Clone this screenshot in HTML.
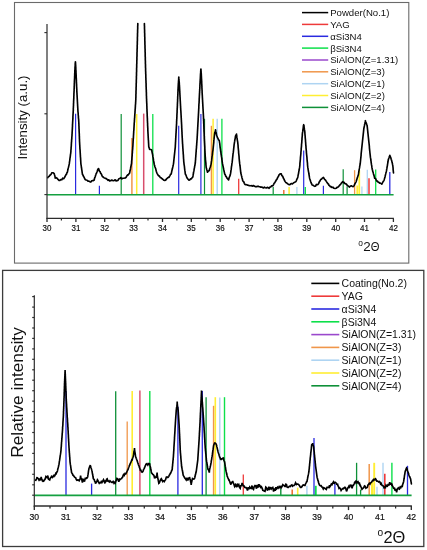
<!DOCTYPE html>
<html><head><meta charset="utf-8"><title>XRD patterns</title>
<style>
html,body{margin:0;padding:0;background:#fff;}
body{width:427px;height:550px;overflow:hidden;font-family:"Liberation Sans",sans-serif;}
svg{display:block;}
text{font-family:"Liberation Sans",sans-serif;fill:#111;}
</style></head><body>
<svg width="427" height="550" viewBox="0 0 427 550">
<rect x="0" y="0" width="427" height="550" fill="#fff"/>

<rect x="14.5" y="2.5" width="394.3" height="260.6" fill="#fff" stroke="#6a6a6a" stroke-width="1.1"/>
<rect x="2.6" y="270.4" width="421.2" height="276.1" fill="#fff" stroke="#3c3c3c" stroke-width="1.3"/>
<g id="top">
<line x1="75.6" y1="113.8" x2="75.6" y2="194.8" stroke="#2a2ae0" stroke-width="1.2"/><line x1="99.4" y1="185.8" x2="99.4" y2="194.8" stroke="#2a2ae0" stroke-width="1.2"/><line x1="121.2" y1="114" x2="121.2" y2="194.8" stroke="#0e9038" stroke-width="1.2"/><line x1="131.9" y1="138" x2="131.9" y2="194.8" stroke="#f0964a" stroke-width="1.5"/><line x1="136.7" y1="114" x2="136.7" y2="194.8" stroke="#ffee33" stroke-width="1.5"/><line x1="143.7" y1="113.6" x2="143.7" y2="194.8" stroke="#d84e6c" stroke-width="1.5"/><line x1="152.8" y1="114" x2="152.8" y2="194.8" stroke="#0ce04a" stroke-width="1.3"/><line x1="178.7" y1="125.8" x2="178.7" y2="194.8" stroke="#2a2ae0" stroke-width="1.2"/><line x1="200.9" y1="114" x2="200.9" y2="194.8" stroke="#2a2ae0" stroke-width="1.2"/><line x1="204.5" y1="118.7" x2="204.5" y2="194.8" stroke="#0e9038" stroke-width="1.2"/><line x1="211.4" y1="125.8" x2="211.4" y2="194.8" stroke="#f0964a" stroke-width="1.4"/><line x1="213.1" y1="118.7" x2="213.1" y2="194.8" stroke="#ffee33" stroke-width="1.5"/><line x1="217.2" y1="118.7" x2="217.2" y2="194.8" stroke="#aed4f2" stroke-width="1.4"/><line x1="221.9" y1="118.7" x2="221.9" y2="194.8" stroke="#0ce04a" stroke-width="1.3"/><line x1="238.7" y1="178.7" x2="238.7" y2="194.8" stroke="#ee3a3a" stroke-width="1.3"/><line x1="273.2" y1="187.1" x2="273.2" y2="194.8" stroke="#0e9038" stroke-width="1.2"/><line x1="283.8" y1="189.9" x2="283.8" y2="194.8" stroke="#f06a28" stroke-width="1.4"/><line x1="289.1" y1="187.1" x2="289.1" y2="194.8" stroke="#ffee33" stroke-width="1.5"/><line x1="296.9" y1="187.1" x2="296.9" y2="194.8" stroke="#aed4f2" stroke-width="1.3"/><line x1="303.7" y1="150.6" x2="303.7" y2="194.8" stroke="#2a2ae0" stroke-width="1.2"/><line x1="305.3" y1="187.1" x2="305.3" y2="194.8" stroke="#0ce04a" stroke-width="1.4"/><line x1="323.4" y1="185.8" x2="323.4" y2="194.8" stroke="#2a2ae0" stroke-width="1.2"/><line x1="343.2" y1="169.3" x2="343.2" y2="194.8" stroke="#0e9038" stroke-width="1.2"/><line x1="347.1" y1="186.5" x2="347.1" y2="194.8" stroke="#0e9038" stroke-width="1.2"/><line x1="354.6" y1="170.2" x2="354.6" y2="194.8" stroke="#f0964a" stroke-width="1.3"/><line x1="357.3" y1="185.5" x2="357.3" y2="194.8" stroke="#ffee33" stroke-width="1.9"/><line x1="359.3" y1="170.2" x2="359.3" y2="194.8" stroke="#ffee33" stroke-width="1.7"/><line x1="361.9" y1="186.5" x2="361.9" y2="194.8" stroke="#aed4f2" stroke-width="1.2"/><line x1="367.3" y1="169.7" x2="367.3" y2="194.8" stroke="#aed4f2" stroke-width="1.3"/><line x1="369" y1="178.3" x2="369" y2="194.8" stroke="#ee3a3a" stroke-width="1.5"/><line x1="375.7" y1="169.5" x2="375.7" y2="194.8" stroke="#0ce04a" stroke-width="1.3"/><line x1="389.8" y1="172.1" x2="389.8" y2="194.8" stroke="#2a2ae0" stroke-width="1.3"/>
<line x1="47" y1="194.8" x2="393.6" y2="194.8" stroke="#14a040" stroke-width="1.6"/>
<polyline points="47.7,177.7 48.4,176.6 49.2,176.5 49.9,175.1 50.6,174.9 51.2,174.0 51.8,172.9 52.4,172.7 53.3,172.7 54.3,173.9 54.5,174.8 54.8,175.7 55.0,176.7 55.2,178.1 56.1,177.7 57.1,178.3 58.0,179.4 59.0,180.3 59.9,180.3 60.8,179.6 61.8,179.8 62.7,178.1 63.7,178.7 64.6,177.4 65.1,176.5 65.5,175.5 66.0,174.7 66.5,174.2 66.9,172.8 67.4,172.2 67.6,171.2 67.8,170.2 68.0,169.3 68.2,168.2 68.5,167.3 68.7,166.4 68.9,165.6 69.1,164.6 69.3,163.7 69.4,162.8 69.5,161.8 69.7,160.8 69.8,160.0 69.9,159.0 70.0,158.0 70.2,157.1 70.3,156.2 70.4,155.3 70.5,154.3 70.7,153.3 70.8,152.4 70.9,151.4 70.9,150.5 71.0,149.6 71.1,148.6 71.1,147.7 71.2,146.8 71.3,145.9 71.3,144.9 71.4,144.0 71.4,143.1 71.5,142.1 71.6,141.2 71.6,140.2 71.7,139.3 71.8,138.4 71.8,137.5 71.9,136.5 72.0,135.6 72.0,134.6 72.1,133.7 72.1,132.8 72.2,131.9 72.2,131.0 72.3,130.1 72.3,129.2 72.4,128.3 72.4,127.4 72.5,126.5 72.5,125.6 72.5,124.7 72.6,123.8 72.6,122.9 72.7,122.0 72.7,121.1 72.8,120.2 72.8,119.3 72.9,118.4 72.9,117.5 72.9,116.6 73.0,115.7 73.0,114.8 73.1,113.9 73.1,113.0 73.2,112.1 73.2,111.2 73.3,110.3 73.3,109.4 73.3,108.5 73.4,107.5 73.4,106.6 73.5,105.7 73.5,104.8 73.5,103.9 73.6,102.9 73.6,102.0 73.6,101.1 73.7,100.2 73.7,99.2 73.8,98.3 73.8,97.4 73.8,96.5 73.9,95.5 73.9,94.6 73.9,93.7 74.0,92.8 74.0,91.9 74.1,90.9 74.1,90.0 74.1,89.1 74.2,88.2 74.2,87.3 74.2,86.4 74.3,85.5 74.3,84.6 74.3,83.7 74.4,82.8 74.4,81.9 74.4,81.0 74.5,80.1 74.5,79.2 74.6,78.3 74.6,77.4 74.6,76.5 74.7,75.6 74.7,74.7 74.7,73.8 74.8,72.9 74.8,72.0 74.8,71.1 74.9,70.2 75.0,69.3 75.0,68.4 75.0,67.5 75.1,66.6 75.2,65.7 75.2,64.8 75.2,63.9 75.3,63.0 75.4,62.1 75.4,61.7 75.5,62.1 75.5,63.0 75.6,63.9 75.6,64.8 75.7,65.7 75.7,66.6 75.8,67.5 75.8,68.4 75.8,69.3 75.9,70.2 76.0,71.1 76.0,72.0 76.0,72.9 76.1,73.8 76.1,74.7 76.2,75.6 76.2,76.5 76.2,77.4 76.3,78.3 76.3,79.2 76.4,80.1 76.4,81.0 76.4,81.9 76.5,82.8 76.5,83.7 76.6,84.6 76.6,85.5 76.6,86.4 76.7,87.3 76.7,88.2 76.8,89.1 76.8,90.0 76.8,90.9 76.9,91.8 76.9,92.7 77.0,93.6 77.0,94.5 77.1,95.4 77.1,96.3 77.2,97.2 77.2,98.1 77.3,99.0 77.3,99.9 77.4,100.9 77.4,101.8 77.5,102.7 77.5,103.6 77.6,104.5 77.6,105.4 77.7,106.3 77.7,107.2 77.8,108.1 77.8,109.0 77.9,109.9 77.9,110.9 78.0,111.8 78.1,112.7 78.2,113.6 78.2,114.6 78.3,115.5 78.4,116.4 78.4,117.4 78.5,118.3 78.6,119.2 78.7,120.1 78.7,121.1 78.8,122.0 78.8,122.9 78.9,123.8 78.9,124.7 78.9,125.7 79.0,126.6 79.0,127.5 79.0,128.4 79.1,129.3 79.1,130.2 79.1,131.1 79.2,132.0 79.2,133.0 79.3,133.9 79.3,134.8 79.3,135.7 79.4,136.6 79.4,137.5 79.4,138.4 79.5,139.3 79.5,140.3 79.5,141.2 79.6,142.1 79.6,143.0 79.7,143.9 79.7,144.8 79.8,145.7 79.8,146.6 79.9,147.5 79.9,148.4 80.0,149.3 80.1,150.2 80.1,151.1 80.2,152.0 80.2,152.9 80.3,153.8 80.3,154.7 80.4,155.6 80.4,156.5 80.5,157.4 80.6,158.3 80.6,159.2 80.7,160.1 80.7,161.0 80.8,161.9 80.8,162.8 80.9,163.7 81.0,164.6 81.2,165.6 81.3,166.4 81.4,167.5 81.6,168.3 81.7,169.3 81.9,170.3 82.0,171.2 82.1,172.1 82.3,173.1 82.4,174.2 82.9,174.9 83.3,176.0 83.8,176.8 84.3,177.7 84.7,178.8 85.2,179.5 86.1,180.0 87.1,180.2 88.0,181.2 88.9,181.1 89.9,181.7 90.8,182.1 91.7,180.7 92.5,180.6 93.3,180.7 94.2,180.0 94.5,178.5 94.8,177.5 95.2,176.8 95.5,175.6 95.8,174.8 96.1,173.7 96.5,173.2 96.8,172.3 97.2,171.5 97.6,170.0 97.9,169.5 98.3,168.6 98.8,169.0 99.2,170.6 99.7,171.6 100.2,171.8 100.7,173.4 101.1,173.7 101.6,174.6 102.1,175.9 102.5,176.7 103.0,176.8 103.8,177.6 104.7,178.1 105.5,178.4 106.3,178.6 107.1,179.3 107.9,180.3 108.8,179.8 109.6,181.0 110.5,180.7 111.4,180.1 112.4,180.4 113.3,180.7 114.2,180.5 115.2,179.8 116.1,181.0 117.0,180.6 118.0,180.4 118.9,178.7 119.8,178.5 120.8,177.7 121.9,178.8 122.9,178.2 124.0,178.2 124.7,178.0 125.5,177.9 126.2,177.2 126.9,175.8 127.6,174.9 128.2,175.0 128.9,173.8 129.6,173.2 129.8,172.0 130.0,171.0 130.2,170.3 130.4,169.3 130.6,168.2 130.7,167.5 130.9,166.5 131.1,165.6 131.3,164.5 131.5,163.8 131.6,162.7 131.6,161.8 131.7,160.9 131.8,159.9 131.9,159.0 131.9,158.1 132.0,157.1 132.1,156.2 132.2,155.3 132.2,154.3 132.3,153.4 132.4,152.4 132.4,151.5 132.5,150.5 132.6,149.6 132.7,148.7 132.7,147.8 132.8,146.8 132.9,145.9 132.9,145.0 133.0,144.1 133.0,143.2 133.1,142.3 133.1,141.4 133.2,140.5 133.2,139.6 133.3,138.7 133.4,137.8 133.4,136.9 133.5,136.0 133.5,135.1 133.6,134.2 133.6,133.3 133.7,132.4 133.7,131.5 133.8,130.6 133.9,129.7 133.9,128.8 134.0,127.9 134.0,127.0 134.1,126.1 134.1,125.2 134.2,124.3 134.2,123.4 134.3,122.5 134.4,121.6 134.4,120.7 134.5,119.8 134.5,118.9 134.6,118.0 134.7,117.1 134.7,116.2 134.8,115.3 134.8,114.4 134.9,113.5 135.0,112.6 135.0,111.7 135.1,110.8 135.1,109.9 135.2,109.0 135.3,108.1 135.3,107.2 135.4,106.3 135.4,105.4 135.5,104.5 135.6,103.6 135.6,102.7 135.7,101.8 135.7,100.9 135.8,100.0 135.8,99.1 135.8,98.2 135.9,97.3 135.9,96.4 135.9,95.5 135.9,94.5 136.0,93.6 136.0,92.7 136.0,91.8 136.0,90.9 136.1,90.0 136.1,89.1 136.1,88.2 136.1,87.3 136.2,86.4 136.2,85.5 136.2,84.5 136.2,83.6 136.3,82.7 136.3,81.8 136.3,80.9 136.3,80.0 136.4,79.1 136.4,78.2 136.4,77.3 136.4,76.4 136.5,75.5 136.5,74.5 136.5,73.6 136.5,72.7 136.6,71.8 136.6,70.9 136.6,70.0 136.6,69.1 136.6,68.2 136.7,67.3 136.7,66.4 136.7,65.4 136.7,64.5 136.8,63.6 136.8,62.7 136.8,61.8 136.8,60.9 136.9,60.0 136.9,59.1 136.9,58.1 136.9,57.2 137.0,56.3 137.0,55.4 137.0,54.5 137.0,53.6 137.0,52.7 137.1,51.8 137.1,50.9 137.1,49.9 137.1,49.0 137.2,48.1 137.2,47.2 137.2,46.3 137.2,45.4 137.3,44.5 137.3,43.6 137.3,42.6 137.3,41.7 137.4,40.8 137.4,39.9 137.4,39.0 137.4,38.1 137.4,37.2 137.5,36.3 137.5,35.4 137.5,34.4 137.5,33.5 137.6,32.6 137.6,31.7 137.6,30.8 137.6,29.9 137.7,29.0 137.7,28.1 137.7,27.1 137.7,26.2 137.8,25.3 137.8,24.4 137.8,23.5" fill="none" stroke="#000" stroke-width="1.65" stroke-linejoin="round" stroke-linecap="round"/>
<polyline points="144.4,23.5 144.4,24.4 144.4,25.3 144.5,26.2 144.5,27.1 144.5,28.1 144.5,29.0 144.6,29.9 144.6,30.8 144.6,31.7 144.6,32.6 144.7,33.5 144.7,34.4 144.7,35.4 144.7,36.3 144.8,37.2 144.8,38.1 144.8,39.0 144.8,39.9 144.8,40.8 144.9,41.7 144.9,42.6 144.9,43.6 144.9,44.5 145.0,45.4 145.0,46.3 145.0,47.2 145.0,48.1 145.1,49.0 145.1,49.9 145.1,50.9 145.1,51.8 145.2,52.7 145.2,53.6 145.2,54.5 145.2,55.4 145.2,56.3 145.3,57.2 145.3,58.1 145.3,59.1 145.3,60.0 145.4,60.9 145.4,61.8 145.4,62.7 145.4,63.6 145.5,64.5 145.5,65.4 145.5,66.4 145.5,67.3 145.6,68.2 145.6,69.1 145.6,70.0 145.6,70.9 145.7,71.8 145.7,72.7 145.7,73.6 145.8,74.5 145.8,75.5 145.8,76.4 145.8,77.3 145.9,78.2 145.9,79.1 145.9,80.0 146.0,80.9 146.0,81.8 146.0,82.7 146.1,83.6 146.1,84.5 146.1,85.5 146.1,86.4 146.2,87.3 146.2,88.2 146.2,89.1 146.3,90.0 146.3,90.9 146.3,91.8 146.4,92.7 146.4,93.6 146.4,94.5 146.4,95.5 146.5,96.4 146.5,97.3 146.5,98.2 146.6,99.1 146.6,100.0 146.6,100.9 146.7,101.9 146.7,102.8 146.8,103.8 146.8,104.7 146.8,105.6 146.9,106.6 146.9,107.5 146.9,108.4 147.0,109.4 147.0,110.3 147.0,111.2 147.1,112.2 147.1,113.1 147.2,114.1 147.2,115.0 147.2,115.9 147.3,116.9 147.3,117.8 147.4,118.7 147.4,119.7 147.4,120.6 147.5,121.5 147.5,122.5 147.6,123.4 147.6,124.4 147.6,125.3 147.7,126.2 147.7,127.2 147.8,128.1 147.8,129.0 147.8,130.0 147.9,130.9 147.9,131.8 148.0,132.8 148.0,133.7 148.1,134.6 148.1,135.6 148.2,136.5 148.2,137.4 148.3,138.4 148.3,139.3 148.4,140.2 148.5,141.2 148.5,142.1 148.6,143.1 148.6,144.0 148.7,144.9 148.7,145.9 148.8,146.9 149.2,147.9 149.5,149.1 149.9,149.5 150.7,149.5 151.5,149.7 151.7,150.2 151.9,151.3 152.1,152.3 152.3,153.2 152.5,154.2 152.7,155.2 152.8,156.2 153.0,157.1 153.2,158.1 153.3,159.0 153.5,160.0 153.6,160.9 153.8,161.8 154.0,162.7 154.1,163.6 154.3,164.7 154.6,165.4 154.9,166.7 155.2,167.5 155.5,168.3 155.8,169.1 156.0,170.1 156.3,171.3 156.6,172.2 156.9,172.9 157.2,173.6 157.8,174.7 158.4,175.5 159.1,176.0 159.7,176.5 160.3,177.7 160.9,177.7 161.8,178.5 162.8,179.2 163.8,180.3 164.7,180.4 165.6,180.1 166.6,178.9 167.5,178.0 168.4,177.4 169.0,177.5 169.5,176.4 170.1,175.3 170.6,174.2 171.2,174.0 171.4,173.1 171.6,172.1 171.8,171.1 172.0,170.3 172.2,169.5 172.5,168.3 172.7,167.3 172.9,166.5 173.1,165.5 173.3,164.7 173.5,163.6 173.6,162.8 173.7,161.8 173.8,160.9 173.9,159.9 174.0,159.0 174.1,158.0 174.2,157.2 174.3,156.2 174.4,155.2 174.5,154.3 174.6,153.4 174.7,152.5 174.8,151.5 174.9,150.5 175.0,149.6 175.1,148.7 175.2,147.8 175.3,146.8 175.3,145.9 175.4,145.0 175.4,144.1 175.5,143.2 175.5,142.3 175.6,141.4 175.6,140.5 175.7,139.6 175.7,138.7 175.8,137.8 175.8,136.9 175.9,136.0 175.9,135.1 176.0,134.2 176.0,133.3 176.1,132.4 176.1,131.5 176.2,130.6 176.2,129.7 176.3,128.8 176.3,127.9 176.4,127.0 176.4,126.1 176.5,125.2 176.5,124.3 176.6,123.4 176.6,122.5 176.6,121.6 176.7,120.7 176.7,119.7 176.8,118.8 176.8,117.9 176.9,117.0 176.9,116.1 176.9,115.1 177.0,114.2 177.0,113.3 177.1,112.4 177.1,111.4 177.1,110.5 177.2,109.6 177.2,108.7 177.3,107.8 177.3,106.8 177.4,105.9 177.4,105.0 177.4,104.1 177.5,103.2 177.5,102.3 177.6,101.4 177.6,100.5 177.6,99.6 177.7,98.7 177.7,97.8 177.7,96.9 177.8,96.0 177.8,95.0 177.9,94.1 177.9,93.2 177.9,92.3 178.0,91.4 178.0,90.5 178.0,89.6 178.1,88.7 178.1,87.8 178.2,86.9 178.2,86.0 178.3,85.0 178.3,84.1 178.4,83.2 178.5,82.2 178.5,81.2 178.6,80.3 178.7,79.3 178.7,78.4 178.8,77.0 178.9,78.4 179.0,79.3 179.0,80.3 179.1,81.2 179.2,82.2 179.3,83.1 179.3,84.1 179.4,85.0 179.5,86.0 179.5,86.9 179.6,87.9 179.6,88.8 179.7,89.8 179.7,90.7 179.8,91.6 179.8,92.6 179.9,93.5 179.9,94.5 180.0,95.4 180.0,96.4 180.1,97.3 180.1,98.2 180.2,99.2 180.2,100.1 180.3,101.1 180.3,102.0 180.4,102.9 180.4,103.9 180.5,104.8 180.5,105.7 180.6,106.6 180.6,107.6 180.7,108.5 180.7,109.4 180.8,110.4 180.9,111.3 180.9,112.2 181.0,113.1 181.0,114.1 181.1,115.0 181.1,115.9 181.2,116.8 181.2,117.8 181.3,118.7 181.3,119.6 181.4,120.5 181.4,121.4 181.5,122.3 181.5,123.2 181.6,124.1 181.6,125.0 181.7,125.9 181.7,126.8 181.7,127.7 181.8,128.6 181.8,129.5 181.9,130.4 181.9,131.3 182.0,132.2 182.0,133.1 182.0,134.0 182.1,134.9 182.1,135.8 182.2,136.7 182.2,137.6 182.3,138.5 182.3,139.4 182.4,140.3 182.4,141.2 182.5,142.1 182.5,143.1 182.6,144.0 182.7,144.9 182.7,145.9 182.8,146.8 182.8,147.7 182.9,148.7 183.0,149.6 183.0,150.6 183.1,151.5 183.2,152.4 183.2,153.4 183.3,154.3 183.4,155.2 183.4,156.2 183.5,157.1 183.5,158.0 183.6,159.0 183.7,159.9 183.7,160.9 183.8,161.8 183.9,162.7 184.0,163.7 184.1,164.6 184.3,165.6 184.4,166.4 184.5,167.4 184.6,168.4 184.7,169.3 184.8,170.2 185.0,171.2 185.1,172.2 185.2,173.0 185.3,174.0 185.8,174.8 186.2,175.8 186.7,177.1 187.2,178.2 187.6,178.6 188.1,179.2 189.0,180.2 189.9,179.8 190.6,178.8 191.4,179.0 192.1,177.6 192.8,177.1 193.0,175.9 193.1,175.1 193.3,174.0 193.5,173.0 193.6,172.1 193.8,171.3 194.0,170.4 194.1,169.5 194.3,168.4 194.5,167.6 194.6,166.6 194.8,165.8 195.0,164.8 195.1,163.9 195.3,163.0 195.4,162.1 195.4,161.2 195.5,160.3 195.6,159.4 195.6,158.5 195.7,157.5 195.8,156.6 195.8,155.7 195.9,154.8 196.0,153.9 196.0,153.0 196.1,152.1 196.2,151.2 196.2,150.3 196.3,149.3 196.4,148.4 196.5,147.5 196.5,146.6 196.6,145.7 196.7,144.8 196.7,143.9 196.8,143.0 196.9,142.0 196.9,141.1 197.0,140.2 197.1,139.3 197.1,138.4 197.2,137.5 197.2,136.6 197.3,135.7 197.3,134.8 197.4,133.9 197.4,133.0 197.5,132.1 197.5,131.1 197.6,130.2 197.6,129.3 197.7,128.4 197.7,127.5 197.8,126.6 197.8,125.7 197.9,124.8 197.9,123.9 198.0,123.0 198.0,122.1 198.1,121.2 198.1,120.3 198.2,119.3 198.2,118.4 198.3,117.5 198.3,116.6 198.4,115.7 198.4,114.8 198.5,113.9 198.5,113.0 198.6,112.1 198.6,111.1 198.7,110.2 198.7,109.2 198.8,108.3 198.8,107.3 198.8,106.4 198.9,105.4 198.9,104.5 199.0,103.5 199.1,102.6 199.1,101.7 199.2,100.7 199.2,99.8 199.2,98.8 199.3,97.9 199.3,97.0 199.4,96.0 199.4,95.1 199.5,94.2 199.5,93.3 199.6,92.4 199.6,91.5 199.7,90.6 199.7,89.7 199.8,88.8 199.8,87.9 199.9,87.0 199.9,86.1 199.9,85.2 200.0,84.3 200.0,83.4 200.1,82.5 200.1,81.6 200.2,80.7 200.2,79.8 200.3,78.9 200.3,78.0 200.4,77.1 200.4,76.1 200.5,75.1 200.5,74.2 200.6,73.3 200.7,72.3 200.7,71.3 200.8,70.4 200.8,69.4 200.9,69.1 201.0,69.5 201.0,70.4 201.1,71.3 201.1,72.3 201.2,73.2 201.3,74.2 201.3,75.2 201.4,76.1 201.4,77.1 201.5,78.0 201.5,78.9 201.6,79.8 201.6,80.7 201.7,81.6 201.7,82.5 201.7,83.4 201.8,84.3 201.8,85.2 201.9,86.1 201.9,87.0 201.9,87.9 202.0,88.8 202.0,89.7 202.1,90.6 202.1,91.5 202.1,92.4 202.2,93.3 202.2,94.2 202.3,95.1 202.3,96.0 202.4,96.9 202.4,97.8 202.5,98.7 202.5,99.6 202.6,100.5 202.6,101.4 202.7,102.3 202.7,103.2 202.8,104.1 202.8,105.1 202.9,105.9 202.9,106.8 203.0,107.8 203.0,108.7 203.1,109.6 203.1,110.5 203.2,111.4 203.2,112.3 203.3,113.2 203.3,114.1 203.4,115.0 203.4,115.9 203.5,116.8 203.5,117.7 203.5,118.6 203.6,119.5 203.6,120.4 203.7,121.3 203.7,122.2 203.7,123.1 203.8,124.0 203.8,124.9 203.8,125.8 203.9,126.7 203.9,127.6 203.9,128.5 204.0,129.4 204.0,130.3 204.0,131.2 204.1,132.1 204.1,133.0 204.2,133.9 204.2,134.8 204.2,135.7 204.3,136.6 204.3,137.5 204.3,138.4 204.4,139.4 204.4,140.3 204.5,141.2 204.5,142.2 204.6,143.1 204.6,144.1 204.7,145.0 204.7,145.9 204.8,146.9 204.8,147.8 204.8,148.7 204.9,149.7 204.9,150.6 205.0,151.5 205.0,152.5 205.1,153.4 205.1,154.3 205.2,155.3 205.2,156.2 205.3,157.1 205.4,158.1 205.4,159.0 205.5,159.9 205.6,160.9 205.7,161.8 205.8,162.7 205.9,163.6 205.9,164.6 206.0,165.5 206.1,166.5 206.2,167.5 206.5,168.4 206.7,169.4 207.0,170.3 207.2,171.1 207.5,172.2 208.4,171.1 209.3,170.5 209.6,169.3 209.8,168.2 210.1,167.5 210.4,166.7 210.7,165.4 210.9,164.8 211.2,163.6 211.3,162.7 211.4,161.8 211.6,160.9 211.7,160.0 211.8,159.0 211.9,158.1 212.0,157.2 212.1,156.2 212.3,155.2 212.4,154.4 212.5,153.4 212.6,152.5 212.7,151.5 212.9,150.6 213.0,149.6 213.1,148.7 213.2,147.8 213.3,146.9 213.4,145.9 213.5,145.0 213.6,144.0 213.7,143.1 213.8,142.1 213.8,141.2 213.9,140.2 214.0,139.4 214.1,138.4 214.2,137.4 214.3,136.5 214.4,135.6 214.5,134.6 214.6,133.6 214.8,132.5 215.1,131.5 215.3,130.7 215.5,129.8 215.7,130.7 215.9,131.7 216.1,132.5 216.3,133.6 216.5,134.5 216.8,135.7 217.2,136.7 217.5,137.7 217.8,138.0 218.6,139.8 219.3,140.6 219.4,141.3 219.5,142.1 219.7,143.1 219.8,144.0 219.9,144.9 220.0,146.0 220.1,146.9 220.2,147.8 220.4,148.8 220.5,149.7 220.6,150.6 220.7,151.5 220.9,152.4 221.0,153.4 221.1,154.3 221.3,155.2 221.4,156.2 221.6,157.1 221.7,158.0 221.8,159.0 222.0,160.0 222.1,160.9 222.2,161.8 222.4,162.8 222.5,163.7 222.7,164.7 222.9,165.6 223.1,166.4 223.3,167.4 223.5,168.4 223.7,169.4 223.9,170.2 224.1,171.3 224.3,172.1 224.5,173.0 224.7,174.2 225.2,174.6 225.7,176.2 226.1,176.5 226.6,177.3 227.1,178.3 228.6,180.0 228.9,178.9 229.2,177.4 229.6,176.8 229.9,175.9 230.2,175.1 230.5,173.9 230.6,173.1 230.8,172.1 230.9,171.2 231.0,170.2 231.2,169.4 231.3,168.3 231.4,167.4 231.5,166.5 231.7,165.6 231.8,164.6 231.9,163.7 232.1,162.7 232.2,161.8 232.3,160.9 232.4,160.0 232.5,159.0 232.6,158.0 232.7,157.1 232.8,156.2 232.9,155.3 233.0,154.2 233.1,153.4 233.3,152.4 233.4,151.4 233.5,150.5 233.6,149.6 233.7,148.7 233.8,147.7 233.9,146.8 234.0,145.8 234.1,144.9 234.2,144.0 234.4,143.1 234.5,142.2 234.7,141.2 234.8,140.2 235.0,139.3 235.2,138.3 235.3,137.5 235.4,136.6 235.6,135.8 236.5,134.1 236.6,135.5 236.8,136.5 236.9,137.4 237.1,138.3 237.2,139.3 237.4,140.3 237.5,141.1 237.7,142.0 237.8,143.0 237.9,144.0 238.0,144.9 238.1,145.8 238.1,146.7 238.2,147.7 238.3,148.6 238.4,149.6 238.5,150.5 238.6,151.4 238.6,152.4 238.7,153.4 238.8,154.3 238.9,155.2 239.0,156.2 239.1,157.1 239.1,158.0 239.2,159.0 239.3,159.9 239.4,160.9 239.5,161.8 239.6,162.7 239.7,163.7 239.8,164.5 239.9,165.5 240.1,166.4 240.2,167.3 240.3,168.3 240.4,169.3 240.5,170.2 240.6,171.1 240.7,172.1 240.8,173.0 241.0,173.8 241.3,174.9 241.5,175.8 241.8,176.8 242.0,177.9 242.2,178.6 242.5,179.6 242.7,180.7 243.2,181.3 243.8,181.9 244.3,183.3 244.9,184.4 245.8,184.6 246.8,184.8 247.7,185.3 248.6,185.4 249.6,185.7 250.5,185.7 251.4,185.6 252.4,186.2 253.3,185.5 254.2,186.0 255.2,186.6 256.1,186.6 257.1,186.6 258.0,186.2 258.9,186.6 259.8,186.8 260.7,187.1 261.7,187.0 262.6,187.5 263.5,188.0 264.4,187.2 265.3,187.8 266.3,188.0 267.2,187.4 268.1,187.6 269.1,188.3 270.0,187.0 270.7,187.0 271.5,185.9 272.2,186.0 273.0,185.5 273.7,184.3 274.2,183.1 274.7,182.8 275.2,181.9 275.6,181.3 276.1,180.3 276.6,179.6 277.1,179.0 277.5,177.9 278.0,176.9 278.4,176.6 278.9,175.1 279.3,174.7 280.1,173.8 280.8,173.8 281.3,173.9 281.8,175.5 282.2,175.8 282.7,176.4 283.2,177.6 283.6,178.6 284.1,179.2 284.5,180.5 285.0,181.4 285.7,182.4 286.4,182.7 287.1,183.3 287.8,183.9 288.7,184.5 289.6,184.7 290.6,184.0 291.5,183.5 292.4,183.9 293.4,183.0 294.4,182.4 295.3,181.9 295.8,181.7 296.3,180.8 296.7,179.7 297.2,178.6 297.7,177.7 297.9,176.7 298.0,175.9 298.2,174.9 298.4,174.0 298.6,173.1 298.7,172.2 298.9,171.1 299.1,170.2 299.3,169.3 299.4,168.2 299.6,167.4 299.7,166.5 299.8,165.6 299.9,164.6 299.9,163.7 300.0,162.7 300.1,161.8 300.2,160.8 300.3,159.9 300.4,159.0 300.4,158.1 300.5,157.1 300.6,156.2 300.7,155.3 300.8,154.3 300.9,153.4 300.9,152.5 301.0,151.5 301.1,150.6 301.2,149.7 301.2,148.7 301.3,147.8 301.4,146.9 301.5,145.9 301.5,144.9 301.6,144.0 301.7,143.1 301.8,142.1 301.8,141.2 301.9,140.3 302.0,139.3 302.0,138.4 302.1,137.4 302.2,136.5 302.3,135.6 302.3,134.7 302.4,133.7 302.5,132.7 302.7,131.9 302.8,130.9 302.9,129.9 303.0,129.1 303.2,128.1 303.3,127.2 303.4,126.2 303.6,125.3 303.7,124.7 303.8,125.3 304.0,126.1 304.1,127.1 304.2,128.1 304.4,129.0 304.5,129.9 304.7,130.9 304.8,131.8 304.9,132.7 304.9,133.7 305.0,134.6 305.1,135.6 305.2,136.5 305.2,137.4 305.3,138.4 305.4,139.3 305.5,140.2 305.5,141.2 305.6,142.1 305.7,143.0 305.7,144.0 305.8,144.9 305.9,145.9 306.0,146.8 306.0,147.8 306.1,148.7 306.2,149.6 306.3,150.6 306.4,151.5 306.4,152.4 306.5,153.4 306.6,154.3 306.7,155.3 306.8,156.2 306.9,157.1 307.0,158.0 307.0,159.0 307.1,159.9 307.2,160.9 307.3,161.8 307.4,162.7 307.5,163.7 307.5,164.6 307.6,165.5 307.7,166.5 307.8,167.4 308.0,168.3 308.1,169.3 308.3,170.3 308.4,171.1 308.6,172.1 308.8,173.0 308.9,174.0 309.1,175.0 309.2,175.8 309.4,176.9 309.5,177.7 309.7,178.7 310.0,179.5 310.4,180.6 310.7,181.8 311.1,182.5 311.4,183.5 311.8,184.2 312.1,185.0 313.0,185.2 314.0,185.9 314.9,186.3 315.7,185.9 316.4,184.4 317.2,184.7 317.9,184.4 318.7,183.4 319.3,181.9 319.8,181.3 320.4,180.1 320.9,179.3 321.5,179.2 322.4,178.1 323.4,177.4 324.0,178.3 324.6,179.3 325.2,179.8 325.8,180.6 326.3,181.4 326.9,182.3 327.4,183.0 327.9,183.8 328.5,184.1 329.0,185.4 329.7,185.8 330.4,186.8 331.1,186.7 331.8,187.4 332.9,187.2 334.0,188.3 335.1,188.5 336.2,188.2 337.0,187.3 337.7,187.3 338.5,186.7 339.2,185.8 340.0,184.9 340.6,184.2 341.1,183.6 341.7,182.8 342.2,182.2 342.8,181.7 343.5,182.7 344.2,182.4 344.9,183.7 345.6,183.7 346.5,184.3 347.5,185.8 348.4,186.0 349.3,187.1 350.2,186.4 351.2,185.8 352.2,186.3 353.1,186.6 353.7,186.1 354.2,185.4 354.8,184.0 355.3,183.1 355.9,182.1 356.2,181.5 356.5,180.4 356.8,179.4 357.1,178.4 357.4,177.4 357.7,176.9 358.0,175.6 358.3,175.1 358.5,173.9 358.6,173.1 358.8,172.0 358.9,171.1 359.1,170.3 359.2,169.2 359.4,168.4 359.6,167.4 359.7,166.4 359.9,165.6 360.0,164.7 360.2,163.8 360.3,162.8 360.4,161.8 360.5,160.9 360.6,160.0 360.7,159.0 360.8,158.1 360.9,157.1 361.0,156.2 361.1,155.3 361.1,154.3 361.2,153.3 361.3,152.4 361.4,151.5 361.5,150.5 361.6,149.6 361.7,148.7 361.8,147.7 361.9,146.8 362.0,145.8 362.1,144.9 362.2,144.0 362.3,143.0 362.4,142.1 362.5,141.2 362.6,140.2 362.7,139.3 362.8,138.4 362.9,137.4 363.0,136.5 363.1,135.6 363.2,134.6 363.3,133.7 363.4,132.8 363.5,131.9 363.6,130.9 363.7,129.9 363.8,129.0 363.9,128.2 364.1,127.3 364.3,126.4 364.5,125.4 364.6,124.6 364.8,123.8 365.0,122.9 365.2,121.9 365.4,120.7 365.7,121.8 366.1,123.0 366.4,123.5 366.8,124.6 367.1,125.3 367.2,126.3 367.3,127.2 367.4,128.1 367.5,129.0 367.6,130.0 367.7,130.9 367.8,131.9 367.9,132.8 368.0,133.8 368.1,134.6 368.2,135.7 368.3,136.6 368.4,137.5 368.5,138.4 368.6,139.4 368.7,140.3 368.8,141.3 368.9,142.2 369.0,143.1 369.1,144.0 369.2,144.9 369.3,145.9 369.4,146.9 369.4,147.8 369.5,148.7 369.6,149.7 369.7,150.6 369.8,151.5 369.9,152.5 370.0,153.4 370.1,154.3 370.2,155.2 370.3,156.2 370.4,157.2 370.6,158.1 370.7,158.9 370.8,160.0 371.0,160.9 371.1,161.8 371.2,162.8 371.4,163.8 371.5,164.7 371.7,165.6 371.8,166.5 371.9,167.4 372.1,168.3 372.2,169.2 372.5,170.1 372.7,171.3 373.0,172.0 373.3,173.1 373.5,173.9 373.8,174.9 374.1,175.7 374.3,176.6 374.6,178.1 375.2,178.3 375.7,178.8 376.3,180.1 376.8,181.1 377.4,181.1 378.2,182.2 378.9,182.4 379.7,183.2 380.4,183.1 381.2,183.6 381.8,184.1 382.3,183.2 382.9,182.0 383.4,181.3 384.0,180.3 384.2,179.7 384.5,178.6 384.7,177.9 385.0,176.9 385.2,176.0 385.4,175.1 385.7,173.9 385.9,172.9 386.2,172.0 386.4,171.1 386.6,170.2 386.7,169.2 386.9,168.4 387.0,167.5 387.2,166.5 387.4,165.6 387.5,164.7 387.7,163.6 387.8,162.7 388.0,161.8 388.1,160.8 388.3,160.1 388.6,158.8 388.9,158.1 389.2,157.2 389.5,156.4 389.8,155.4 390.1,156.1 390.5,157.0 390.8,157.8 391.2,159.3 391.5,160.1 391.7,160.7 391.9,161.6 392.1,162.6 392.4,163.6 392.6,164.7 392.8,165.6 392.9,166.5 393.0,167.3 393.1,168.3 393.1,169.3 393.2,170.2 393.3,171.2 393.4,172.0 393.5,173.0" fill="none" stroke="#000" stroke-width="1.65" stroke-linejoin="round" stroke-linecap="round"/>
<line x1="47" y1="24" x2="47" y2="218.9" stroke="#2c2c2c" stroke-width="1.2"/>
<line x1="44.4" y1="32.6" x2="47" y2="32.6" stroke="#2c2c2c" stroke-width="1.1"/>
<line x1="44.4" y1="113.8" x2="47" y2="113.8" stroke="#2c2c2c" stroke-width="1.1"/>
<line x1="44.4" y1="194.6" x2="47" y2="194.6" stroke="#2c2c2c" stroke-width="1.1"/>
<line x1="46.4" y1="218.4" x2="393.9" y2="218.4" stroke="#2c2c2c" stroke-width="1.35"/>
<line x1="47.0" y1="218.4" x2="47.0" y2="222" stroke="#2c2c2c" stroke-width="1.3"/>
<text transform="translate(47.0,231.4) scale(0.86,1)" font-size="9.3" text-anchor="middle" stroke="#111" stroke-width="0.2">30</text>
<line x1="61.4" y1="218.4" x2="61.4" y2="220.6" stroke="#2c2c2c" stroke-width="1.2"/>
<line x1="75.9" y1="218.4" x2="75.9" y2="222" stroke="#2c2c2c" stroke-width="1.3"/>
<text transform="translate(75.9,231.4) scale(0.86,1)" font-size="9.3" text-anchor="middle" stroke="#111" stroke-width="0.2">31</text>
<line x1="90.3" y1="218.4" x2="90.3" y2="220.6" stroke="#2c2c2c" stroke-width="1.2"/>
<line x1="104.7" y1="218.4" x2="104.7" y2="222" stroke="#2c2c2c" stroke-width="1.3"/>
<text transform="translate(104.7,231.4) scale(0.86,1)" font-size="9.3" text-anchor="middle" stroke="#111" stroke-width="0.2">32</text>
<line x1="119.2" y1="218.4" x2="119.2" y2="220.6" stroke="#2c2c2c" stroke-width="1.2"/>
<line x1="133.6" y1="218.4" x2="133.6" y2="222" stroke="#2c2c2c" stroke-width="1.3"/>
<text transform="translate(133.6,231.4) scale(0.86,1)" font-size="9.3" text-anchor="middle" stroke="#111" stroke-width="0.2">33</text>
<line x1="148.0" y1="218.4" x2="148.0" y2="220.6" stroke="#2c2c2c" stroke-width="1.2"/>
<line x1="162.5" y1="218.4" x2="162.5" y2="222" stroke="#2c2c2c" stroke-width="1.3"/>
<text transform="translate(162.5,231.4) scale(0.86,1)" font-size="9.3" text-anchor="middle" stroke="#111" stroke-width="0.2">34</text>
<line x1="176.9" y1="218.4" x2="176.9" y2="220.6" stroke="#2c2c2c" stroke-width="1.2"/>
<line x1="191.3" y1="218.4" x2="191.3" y2="222" stroke="#2c2c2c" stroke-width="1.3"/>
<text transform="translate(191.3,231.4) scale(0.86,1)" font-size="9.3" text-anchor="middle" stroke="#111" stroke-width="0.2">35</text>
<line x1="205.8" y1="218.4" x2="205.8" y2="220.6" stroke="#2c2c2c" stroke-width="1.2"/>
<line x1="220.2" y1="218.4" x2="220.2" y2="222" stroke="#2c2c2c" stroke-width="1.3"/>
<text transform="translate(220.2,231.4) scale(0.86,1)" font-size="9.3" text-anchor="middle" stroke="#111" stroke-width="0.2">36</text>
<line x1="234.6" y1="218.4" x2="234.6" y2="220.6" stroke="#2c2c2c" stroke-width="1.2"/>
<line x1="249.1" y1="218.4" x2="249.1" y2="222" stroke="#2c2c2c" stroke-width="1.3"/>
<text transform="translate(249.1,231.4) scale(0.86,1)" font-size="9.3" text-anchor="middle" stroke="#111" stroke-width="0.2">37</text>
<line x1="263.5" y1="218.4" x2="263.5" y2="220.6" stroke="#2c2c2c" stroke-width="1.2"/>
<line x1="277.9" y1="218.4" x2="277.9" y2="222" stroke="#2c2c2c" stroke-width="1.3"/>
<text transform="translate(277.9,231.4) scale(0.86,1)" font-size="9.3" text-anchor="middle" stroke="#111" stroke-width="0.2">38</text>
<line x1="292.4" y1="218.4" x2="292.4" y2="220.6" stroke="#2c2c2c" stroke-width="1.2"/>
<line x1="306.8" y1="218.4" x2="306.8" y2="222" stroke="#2c2c2c" stroke-width="1.3"/>
<text transform="translate(306.8,231.4) scale(0.86,1)" font-size="9.3" text-anchor="middle" stroke="#111" stroke-width="0.2">39</text>
<line x1="321.2" y1="218.4" x2="321.2" y2="220.6" stroke="#2c2c2c" stroke-width="1.2"/>
<line x1="335.7" y1="218.4" x2="335.7" y2="222" stroke="#2c2c2c" stroke-width="1.3"/>
<text transform="translate(335.7,231.4) scale(0.86,1)" font-size="9.3" text-anchor="middle" stroke="#111" stroke-width="0.2">40</text>
<line x1="350.1" y1="218.4" x2="350.1" y2="220.6" stroke="#2c2c2c" stroke-width="1.2"/>
<line x1="364.5" y1="218.4" x2="364.5" y2="222" stroke="#2c2c2c" stroke-width="1.3"/>
<text transform="translate(364.5,231.4) scale(0.86,1)" font-size="9.3" text-anchor="middle" stroke="#111" stroke-width="0.2">41</text>
<line x1="379.0" y1="218.4" x2="379.0" y2="220.6" stroke="#2c2c2c" stroke-width="1.2"/>
<line x1="393.4" y1="218.4" x2="393.4" y2="222" stroke="#2c2c2c" stroke-width="1.3"/>
<text transform="translate(393.4,231.4) scale(0.86,1)" font-size="9.3" text-anchor="middle" stroke="#111" stroke-width="0.2">42</text>
<text transform="translate(26.8,159.5) rotate(-90)" font-size="12.8" textLength="84" lengthAdjust="spacingAndGlyphs">Intensity (a.u.)</text>
<text x="358.2" y="246.3" font-size="8.4">o</text><text transform="translate(363.2,251.1) scale(1.04,1)" font-size="12.9">2</text><text transform="translate(370.7,251.1) scale(0.87,1)" font-size="12.9">Θ</text>
<line x1="302" y1="12.6" x2="328.2" y2="12.6" stroke="#000" stroke-width="1.5"/>
<text x="330.2" y="16.0" font-size="9.6">Powder(No.1)</text>
<line x1="302" y1="24.4" x2="328.2" y2="24.4" stroke="#ee3a3a" stroke-width="1.5"/>
<text x="330.2" y="27.8" font-size="9.6">YAG</text>
<line x1="302" y1="36.3" x2="328.2" y2="36.3" stroke="#2a2ae0" stroke-width="1.5"/>
<text x="330.2" y="39.7" font-size="9.6">αSi3N4</text>
<line x1="302" y1="48.1" x2="328.2" y2="48.1" stroke="#0ce04a" stroke-width="1.5"/>
<text x="330.2" y="51.5" font-size="9.6">βSi3N4</text>
<line x1="302" y1="60.0" x2="328.2" y2="60.0" stroke="#9a48cc" stroke-width="1.5"/>
<text x="330.2" y="63.4" font-size="9.6">SiAlON(Z=1.31)</text>
<line x1="302" y1="71.8" x2="328.2" y2="71.8" stroke="#f0964a" stroke-width="1.5"/>
<text x="330.2" y="75.2" font-size="9.6">SiAlON(Z=3)</text>
<line x1="302" y1="83.7" x2="328.2" y2="83.7" stroke="#aed4f2" stroke-width="1.5"/>
<text x="330.2" y="87.1" font-size="9.6">SiAlON(Z=1)</text>
<line x1="302" y1="95.5" x2="328.2" y2="95.5" stroke="#ffee33" stroke-width="1.5"/>
<text x="330.2" y="99.0" font-size="9.6">SiAlON(Z=2)</text>
<line x1="302" y1="107.4" x2="328.2" y2="107.4" stroke="#0e9038" stroke-width="1.5"/>
<text x="330.2" y="110.8" font-size="9.6">SiAlON(Z=4)</text>
</g>
<g id="bottom">
<line x1="66" y1="391" x2="66" y2="495.3" stroke="#2a2ae0" stroke-width="1.3"/><line x1="91.6" y1="483.6" x2="91.6" y2="495.3" stroke="#2a2ae0" stroke-width="1.3"/><line x1="115.7" y1="391.2" x2="115.7" y2="495.3" stroke="#0e9038" stroke-width="1.3"/><line x1="127.2" y1="421.6" x2="127.2" y2="495.3" stroke="#f0964a" stroke-width="1.3"/><line x1="132.2" y1="391" x2="132.2" y2="495.3" stroke="#ffee33" stroke-width="1.6"/><line x1="139.9" y1="390.4" x2="139.9" y2="495.3" stroke="#d84e6c" stroke-width="1.45"/><line x1="149.8" y1="391" x2="149.8" y2="495.3" stroke="#0ce04a" stroke-width="1.4"/><line x1="177.9" y1="406.6" x2="177.9" y2="495.3" stroke="#2a2ae0" stroke-width="1.3"/><line x1="202.3" y1="391" x2="202.3" y2="495.3" stroke="#2a2ae0" stroke-width="1.3"/><line x1="206.1" y1="397.2" x2="206.1" y2="495.3" stroke="#0e9038" stroke-width="1.3"/><line x1="213.6" y1="405.8" x2="213.6" y2="495.3" stroke="#f0964a" stroke-width="1.5"/><line x1="215.3" y1="397.2" x2="215.3" y2="495.3" stroke="#ffee33" stroke-width="1.6"/><line x1="219.8" y1="397.5" x2="219.8" y2="495.3" stroke="#aed4f2" stroke-width="1.4"/><line x1="224.5" y1="397.2" x2="224.5" y2="495.3" stroke="#0ce04a" stroke-width="1.4"/><line x1="243.3" y1="474.4" x2="243.3" y2="495.3" stroke="#ee3a3a" stroke-width="1.3"/><line x1="280.8" y1="488.5" x2="280.8" y2="495.3" stroke="#0e9038" stroke-width="1.4"/><line x1="292.2" y1="489.6" x2="292.2" y2="495.3" stroke="#f06a28" stroke-width="1.5"/><line x1="297.7" y1="487.7" x2="297.7" y2="495.3" stroke="#ffee33" stroke-width="1.6"/><line x1="306.9" y1="485.8" x2="306.9" y2="495.3" stroke="#aed4f2" stroke-width="1.5"/><line x1="314" y1="438.1" x2="314" y2="495.3" stroke="#2a2ae0" stroke-width="1.3"/><line x1="315.8" y1="485.8" x2="315.8" y2="495.3" stroke="#0ce04a" stroke-width="1.8"/><line x1="334.9" y1="484" x2="334.9" y2="495.3" stroke="#2a2ae0" stroke-width="1.3"/><line x1="356.6" y1="462.8" x2="356.6" y2="495.3" stroke="#0e9038" stroke-width="1.3"/><line x1="360.6" y1="489.6" x2="360.6" y2="495.3" stroke="#0e9038" stroke-width="1.3"/><line x1="369.2" y1="463.9" x2="369.2" y2="495.3" stroke="#f0964a" stroke-width="1.5"/><line x1="372.0" y1="482" x2="372.0" y2="495.3" stroke="#ffee33" stroke-width="2.0"/><line x1="374.2" y1="462.8" x2="374.2" y2="495.3" stroke="#ffee33" stroke-width="1.9"/><line x1="377" y1="486.8" x2="377" y2="495.3" stroke="#aed4f2" stroke-width="1.4"/><line x1="383" y1="462.8" x2="383" y2="495.3" stroke="#aed4f2" stroke-width="1.4"/><line x1="384.8" y1="473.7" x2="384.8" y2="495.3" stroke="#ee3a3a" stroke-width="1.6"/><line x1="391.9" y1="462.8" x2="391.9" y2="495.3" stroke="#0ce04a" stroke-width="1.4"/><line x1="407.5" y1="465.8" x2="407.5" y2="495.3" stroke="#2a2ae0" stroke-width="1.3"/>
<line x1="34.3" y1="495.3" x2="411.6" y2="495.3" stroke="#14a040" stroke-width="1.7"/>
<polyline points="35.2,480.2 35.8,480.3 36.4,479.1 36.9,477.7 37.5,477.8 37.9,478.4 38.3,478.6 38.6,479.5 39.0,480.2 39.4,479.5 39.9,480.5 40.3,479.4 40.8,478.7 41.2,476.8 41.6,479.3 42.0,479.4 42.3,480.8 42.7,481.1 43.1,480.0 43.5,481.8 43.9,480.4 44.2,480.3 44.6,479.5 45.0,479.5 45.9,476.6 46.9,477.5 47.8,475.6 48.4,479.0 49.1,479.5 49.7,479.9 50.2,478.5 50.6,477.7 51.0,477.6 51.5,476.4 52.5,477.4 53.4,475.8 53.9,476.3 54.3,475.4 54.8,475.6 55.3,474.7 55.8,473.4 56.2,473.7 56.7,472.2 57.2,471.7 57.4,471.0 57.6,470.2 57.7,469.6 57.9,468.8 58.1,468.0 58.3,467.3 58.5,466.5 58.6,465.9 58.8,465.0 59.0,464.4 59.1,463.5 59.2,462.8 59.3,462.0 59.4,461.2 59.6,460.4 59.7,459.7 59.8,458.9 59.9,458.1 60.0,457.4 60.1,456.6 60.2,455.9 60.3,455.1 60.5,454.2 60.6,453.5 60.7,452.8 60.8,451.9 60.9,451.2 61.0,450.4 61.0,449.7 61.1,448.9 61.1,448.1 61.2,447.4 61.3,446.6 61.3,445.8 61.4,445.1 61.4,444.3 61.5,443.5 61.5,442.7 61.6,442.0 61.7,441.2 61.7,440.4 61.8,439.7 61.8,438.9 61.9,438.1 62.0,437.4 62.0,436.6 62.1,435.8 62.1,435.1 62.2,434.3 62.2,433.5 62.3,432.8 62.4,432.0 62.4,431.2 62.5,430.5 62.5,429.7 62.6,429.0 62.6,428.2 62.6,427.4 62.7,426.7 62.8,425.9 62.8,425.1 62.9,424.4 62.9,423.6 62.9,422.8 63.0,422.1 63.0,421.3 63.1,420.6 63.1,419.8 63.2,419.0 63.2,418.3 63.3,417.5 63.3,416.7 63.4,416.0 63.4,415.2 63.4,414.5 63.5,413.7 63.5,412.9 63.5,412.2 63.5,411.4 63.6,410.7 63.6,409.9 63.6,409.1 63.7,408.4 63.7,407.6 63.7,406.9 63.8,406.1 63.8,405.3 63.8,404.6 63.8,403.8 63.9,403.0 63.9,402.3 63.9,401.5 64.0,400.8 64.0,400.0 64.0,399.3 64.0,398.5 64.1,397.8 64.1,397.0 64.1,396.3 64.2,395.5 64.2,394.7 64.2,394.0 64.2,393.2 64.2,392.5 64.3,391.7 64.3,391.0 64.3,390.3 64.3,389.5 64.4,388.7 64.4,388.0 64.4,387.3 64.4,386.5 64.5,385.8 64.5,385.0 64.5,384.3 64.5,383.5 64.6,382.7 64.6,382.0 64.6,381.2 64.7,380.5 64.7,379.7 64.7,379.0 64.8,378.2 64.8,377.4 64.8,376.7 64.9,375.9 64.9,375.2 64.9,374.4 65.0,373.6 65.0,372.9 65.0,372.1 65.1,371.4 65.1,370.1 65.1,371.4 65.2,372.1 65.2,372.9 65.2,373.6 65.3,374.4 65.3,375.2 65.3,375.9 65.4,376.7 65.4,377.4 65.4,378.2 65.5,379.0 65.5,379.7 65.5,380.5 65.6,381.2 65.6,382.0 65.6,382.7 65.7,383.5 65.7,384.3 65.7,385.0 65.7,385.7 65.8,386.5 65.8,387.3 65.8,388.0 65.9,388.8 65.9,389.5 65.9,390.2 65.9,391.0 66.0,391.7 66.0,392.5 66.0,393.3 66.1,394.0 66.1,394.8 66.1,395.5 66.2,396.3 66.2,397.0 66.2,397.8 66.2,398.5 66.3,399.3 66.3,400.0 66.3,400.8 66.4,401.5 66.4,402.3 66.5,403.1 66.5,403.8 66.6,404.6 66.6,405.3 66.6,406.1 66.7,406.9 66.7,407.6 66.8,408.4 66.8,409.1 66.9,409.9 66.9,410.7 66.9,411.4 67.0,412.2 67.0,412.9 67.1,413.7 67.1,414.5 67.2,415.2 67.2,416.0 67.2,416.8 67.3,417.6 67.4,418.4 67.4,419.2 67.5,420.0 67.5,420.8 67.5,421.6 67.6,422.4 67.7,423.1 67.7,423.9 67.8,424.7 67.8,425.5 67.8,426.3 67.9,427.1 68.0,427.9 68.0,428.7 68.0,429.5 68.1,430.2 68.1,431.0 68.2,431.7 68.2,432.5 68.2,433.2 68.3,434.0 68.3,434.7 68.4,435.5 68.4,436.2 68.4,437.0 68.5,437.7 68.5,438.5 68.6,439.2 68.6,440.0 68.6,440.7 68.7,441.5 68.7,442.2 68.8,443.0 68.8,443.7 68.8,444.5 68.9,445.2 68.9,446.0 69.0,446.7 69.0,447.5 69.1,448.3 69.1,449.1 69.2,449.9 69.2,450.6 69.3,451.4 69.3,452.2 69.4,453.0 69.5,453.8 69.5,454.6 69.6,455.4 69.6,456.1 69.7,456.9 69.8,457.7 69.8,458.5 69.9,459.3 69.9,460.0 70.0,460.8 70.0,461.6 70.1,462.4 70.2,463.2 70.3,464.0 70.4,464.7 70.6,465.6 70.7,466.4 70.8,467.2 70.9,468.0 71.0,468.7 71.1,469.5 71.3,470.4 71.4,471.2 71.5,471.9 71.6,472.6 72.1,473.4 72.6,474.2 73.0,475.3 73.5,475.5 74.0,476.3 74.6,477.2 75.1,477.4 75.7,477.8 76.2,479.4 76.8,480.2 77.6,479.9 78.3,480.4 79.1,479.8 79.4,480.3 79.7,479.5 80.0,479.0 80.3,478.2 80.6,475.5 81.0,478.5 81.3,478.6 81.7,479.8 82.0,480.5 82.4,482.6 83.1,479.3 83.8,480.0 84.5,481.6 85.2,478.3 85.7,478.3 86.2,478.5 86.7,477.8 87.2,477.9 87.7,476.7 87.8,475.7 87.9,475.0 88.1,474.2 88.2,473.4 88.3,472.7 88.4,471.9 88.5,471.1 88.6,470.4 88.8,469.6 88.9,468.9 89.0,468.2 89.4,467.4 89.9,466.1 90.3,465.2 90.6,466.6 90.9,467.5 91.2,468.3 91.5,469.3 91.8,470.0 91.9,470.7 92.1,471.4 92.2,472.2 92.3,473.1 92.5,473.7 92.6,474.5 92.8,475.4 92.9,476.0 93.0,476.8 93.2,477.7 93.3,478.6 93.7,479.2 94.2,479.4 94.6,481.1 95.1,481.6 95.5,483.6 96.1,482.6 96.8,481.7 97.4,479.8 97.9,480.5 98.3,481.5 98.8,482.5 99.2,483.2 99.7,482.6 100.2,482.8 100.7,482.7 101.1,481.9 101.6,480.8 102.1,482.3 102.8,481.1 103.5,479.7 104.2,481.3 104.9,483.4 105.5,481.1 106.1,481.3 106.6,479.2 107.2,478.8 107.9,481.2 108.6,481.1 109.3,481.9 110.0,480.8 111.2,482.1 112.1,482.5 113.1,481.5 114.0,483.3 114.6,482.3 115.2,483.0 115.7,481.4 116.3,480.5 116.9,478.5 117.8,478.9 118.8,481.7 119.7,479.2 120.2,479.5 120.7,478.9 121.1,478.8 121.6,478.6 122.1,477.6 122.6,477.2 123.2,475.2 123.8,474.4 124.3,475.2 125.1,473.5 125.8,473.9 126.6,472.4 126.9,471.7 127.2,471.0 127.5,470.1 127.9,469.9 128.2,468.9 128.5,468.0 128.8,467.3 129.1,466.5 129.4,465.5 129.7,465.2 130.0,464.2 130.3,463.7 130.7,462.6 131.1,462.0 131.4,460.9 131.8,459.9 132.2,459.9 132.4,459.0 132.6,458.1 132.9,457.5 133.1,456.8 133.3,455.9 133.4,455.1 133.6,454.4 133.7,453.6 133.8,452.9 134.0,452.0 134.1,451.3 134.2,450.6 134.4,449.7 134.5,448.1 134.6,449.8 134.7,450.6 134.8,451.4 134.9,452.1 135.1,452.9 135.2,453.7 135.3,454.4 135.4,455.3 135.5,456.0 135.6,456.8 135.9,457.3 136.2,458.3 136.5,459.0 136.8,459.8 137.1,460.4 137.3,461.2 137.6,462.3 137.8,462.8 138.1,463.6 138.3,464.3 138.6,465.1 138.9,465.8 139.2,466.5 139.4,467.6 139.7,468.2 140.0,468.9 140.3,470.1 140.8,470.1 141.2,471.0 141.7,472.5 142.1,471.0 142.5,471.9 142.9,471.5 143.2,470.8 143.6,469.4 144.0,468.9 144.3,468.4 144.6,467.4 144.9,466.9 145.3,465.7 145.6,465.4 145.9,464.3 146.9,463.7 147.8,465.0 148.2,464.1 148.6,464.0 148.9,462.9 149.3,464.2 149.5,463.2 149.7,463.9 149.8,464.6 150.0,465.5 150.2,466.1 150.4,467.1 150.5,467.8 150.7,468.6 150.8,469.5 151.0,470.2 151.2,471.1 151.3,471.9 151.5,472.8 152.0,473.5 152.4,473.8 152.9,474.6 153.4,474.8 153.9,475.5 154.4,477.3 154.8,476.9 155.3,478.1 155.8,476.7 156.1,477.7 156.3,476.8 156.6,476.1 156.8,475.3 157.1,472.6 157.3,475.3 157.4,476.1 157.6,476.9 157.7,477.8 157.9,478.5 158.1,479.3 158.2,480.2 158.4,480.9 158.5,481.7 158.7,482.5 158.8,483.2 159.0,483.0 159.3,483.0 159.5,482.5 159.8,481.7 160.1,480.7 160.4,480.0 160.6,479.3 160.9,479.3 161.4,478.8 161.9,480.4 162.3,480.4 162.8,481.5 163.3,480.6 163.9,480.7 164.4,481.4 164.9,480.4 165.5,479.9 166.3,477.2 167.0,476.9 167.8,477.5 168.1,477.4 168.5,476.9 168.8,476.3 169.2,475.3 169.5,474.9 169.9,474.5 170.2,473.4 170.6,473.3 171.0,472.2 171.3,471.6 171.7,470.4 172.1,469.9 172.2,469.1 172.3,468.4 172.3,467.6 172.4,466.8 172.5,466.1 172.6,465.3 172.6,464.5 172.7,463.8 172.8,463.0 172.9,462.2 172.9,461.4 173.0,460.6 173.1,459.9 173.2,459.1 173.2,458.4 173.3,457.6 173.4,456.8 173.4,456.0 173.5,455.2 173.5,454.5 173.6,453.7 173.6,452.9 173.7,452.1 173.7,451.4 173.8,450.6 173.8,449.8 173.9,449.0 173.9,448.2 173.9,447.5 174.0,446.7 174.0,445.9 174.1,445.1 174.1,444.3 174.2,443.6 174.2,442.8 174.3,442.0 174.3,441.2 174.4,440.4 174.4,439.7 174.5,438.9 174.5,438.1 174.5,437.3 174.6,436.5 174.6,435.8 174.7,435.0 174.7,434.2 174.8,433.4 174.8,432.7 174.9,431.9 174.9,431.1 175.0,430.3 175.0,429.5 175.0,428.8 175.1,428.0 175.1,427.2 175.2,426.4 175.2,425.7 175.3,424.9 175.3,424.1 175.4,423.3 175.4,422.6 175.5,421.8 175.5,421.0 175.6,420.2 175.6,419.4 175.7,418.6 175.7,417.9 175.8,417.1 175.8,416.3 175.9,415.5 176.0,414.7 176.0,413.9 176.1,413.1 176.1,412.4 176.2,411.6 176.2,410.8 176.3,410.0 176.4,409.2 176.5,408.3 176.6,407.5 176.8,406.7 176.9,405.8 177.0,405.1 177.1,404.2 177.2,401.6 177.3,404.2 177.4,405.0 177.5,405.9 177.6,406.7 177.8,407.5 177.9,408.3 178.0,409.2 178.1,410.0 178.2,410.8 178.2,411.5 178.3,412.3 178.3,413.1 178.4,413.8 178.4,414.6 178.5,415.4 178.5,416.1 178.6,416.9 178.6,417.6 178.7,418.4 178.7,419.2 178.8,419.9 178.8,420.7 178.9,421.5 178.9,422.2 179.0,423.0 179.0,423.7 179.1,424.5 179.1,425.3 179.2,426.0 179.2,426.7 179.2,427.5 179.3,428.3 179.3,429.0 179.3,429.8 179.4,430.5 179.4,431.3 179.4,432.0 179.5,432.8 179.5,433.5 179.6,434.2 179.6,435.0 179.6,435.8 179.7,436.5 179.7,437.3 179.7,438.1 179.8,438.9 179.8,439.6 179.8,440.4 179.9,441.2 179.9,441.9 179.9,442.7 180.0,443.5 180.0,444.3 180.0,445.0 180.1,445.8 180.1,446.6 180.1,447.3 180.2,448.1 180.2,448.9 180.2,449.7 180.3,450.4 180.3,451.2 180.4,451.9 180.4,452.7 180.5,453.4 180.6,454.2 180.6,454.9 180.7,455.7 180.8,456.5 180.8,457.2 180.9,458.0 180.9,458.7 181.0,459.5 181.1,460.2 181.1,460.9 181.2,461.7 181.3,462.5 181.3,463.2 181.4,463.9 181.5,464.7 181.5,465.5 181.6,466.2 181.7,467.0 181.9,467.7 182.0,468.5 182.1,469.2 182.3,470.0 182.4,470.8 182.6,471.5 182.7,472.3 182.8,473.0 183.0,473.8 183.1,474.9 183.6,475.9 184.0,476.6 184.5,477.5 184.9,478.2 185.4,478.7 186.2,479.9 187.0,477.7 187.8,480.5 188.4,479.1 189.1,477.8 189.7,477.7 189.9,478.2 190.0,478.9 190.2,479.6 190.4,480.3 190.5,481.0 190.7,481.9 190.9,482.4 191.0,483.2 191.2,484.8 191.4,483.2 191.6,482.3 191.8,481.6 191.9,480.8 192.1,480.0 192.3,479.2 192.5,478.5 193.4,479.1 194.3,478.9 194.5,478.4 194.7,477.7 194.9,477.2 195.1,476.3 195.2,475.4 195.4,474.9 195.6,474.0 195.8,473.2 196.0,472.6 196.2,471.8 196.3,471.1 196.4,470.3 196.5,469.5 196.6,468.8 196.7,468.0 196.8,467.3 196.9,466.6 197.0,465.8 197.1,465.1 197.2,464.3 197.3,463.6 197.4,462.9 197.5,462.1 197.6,461.4 197.7,460.6 197.8,459.8 197.8,459.1 197.9,458.3 197.9,457.6 198.0,456.8 198.0,456.1 198.1,455.3 198.1,454.6 198.2,453.8 198.2,453.1 198.3,452.3 198.3,451.6 198.4,450.8 198.4,450.1 198.5,449.3 198.5,448.6 198.6,447.8 198.6,447.1 198.7,446.3 198.7,445.6 198.8,444.8 198.8,444.1 198.9,443.3 198.9,442.6 199.0,441.8 199.0,441.0 199.1,440.3 199.1,439.5 199.2,438.8 199.2,438.0 199.2,437.2 199.3,436.5 199.3,435.7 199.4,434.9 199.4,434.2 199.4,433.4 199.5,432.7 199.5,431.9 199.6,431.1 199.6,430.4 199.7,429.6 199.7,428.8 199.7,428.1 199.8,427.3 199.8,426.5 199.9,425.8 199.9,425.0 199.9,424.2 200.0,423.5 200.0,422.7 200.1,422.0 200.1,421.2 200.1,420.4 200.2,419.7 200.2,418.9 200.2,418.2 200.3,417.4 200.3,416.6 200.3,415.9 200.4,415.1 200.4,414.4 200.4,413.6 200.5,412.8 200.5,412.1 200.6,411.3 200.6,410.6 200.6,409.8 200.7,409.0 200.7,408.3 200.7,407.5 200.8,406.8 200.8,406.0 200.8,405.2 200.9,404.4 200.9,403.7 201.0,402.9 201.0,402.1 201.0,401.3 201.1,400.6 201.1,399.8 201.2,399.0 201.2,398.2 201.2,397.4 201.3,396.7 201.3,395.9 201.3,395.1 201.4,394.3 201.4,393.6 201.5,392.8 201.5,390.5 201.6,392.8 201.6,393.5 201.7,394.3 201.7,395.1 201.8,395.8 201.9,396.6 201.9,397.4 202.0,398.1 202.1,398.9 202.1,399.7 202.2,400.5 202.2,401.2 202.3,402.0 202.4,402.8 202.4,403.5 202.5,404.2 202.5,405.0 202.6,405.7 202.6,406.5 202.7,407.3 202.8,408.0 202.8,408.8 202.9,409.5 202.9,410.3 203.0,411.0 203.0,411.8 203.1,412.5 203.1,413.3 203.2,414.0 203.2,414.8 203.3,415.5 203.3,416.3 203.4,417.1 203.4,417.9 203.5,418.6 203.5,419.4 203.6,420.2 203.6,421.0 203.7,421.7 203.7,422.5 203.8,423.3 203.8,424.1 203.9,424.8 203.9,425.6 204.0,426.4 204.0,427.1 204.1,427.9 204.1,428.7 204.1,429.4 204.2,430.2 204.2,431.0 204.3,431.7 204.3,432.5 204.4,433.2 204.4,434.0 204.5,434.7 204.5,435.5 204.5,436.2 204.6,437.0 204.6,437.7 204.7,438.5 204.7,439.2 204.8,440.0 204.8,440.7 204.8,441.5 204.9,442.2 204.9,443.0 205.0,443.7 205.0,444.5 205.1,445.2 205.1,446.0 205.2,446.7 205.2,447.5 205.3,448.3 205.4,449.1 205.4,449.8 205.5,450.6 205.6,451.3 205.7,452.1 205.7,452.9 205.8,453.7 205.9,454.4 206.0,455.2 206.0,456.0 206.1,456.7 206.2,457.5 206.3,458.3 206.3,459.1 206.4,459.8 206.5,460.6 206.6,461.4 206.8,462.1 206.9,462.8 207.0,463.6 207.1,464.4 207.2,465.1 207.4,465.8 207.5,466.6 207.6,467.4 207.8,468.1 207.9,468.8 208.0,469.3 208.7,470.3 209.3,472.6 209.5,470.2 209.6,469.5 209.8,468.6 210.0,467.9 210.1,467.3 210.3,466.5 210.5,465.7 210.6,465.1 210.8,464.3 210.9,463.5 211.1,462.7 211.2,461.9 211.3,461.2 211.4,460.4 211.6,459.6 211.7,458.8 211.8,458.0 211.9,457.2 212.1,456.4 212.2,455.7 212.3,454.9 212.4,454.2 212.5,453.3 212.6,452.6 212.7,451.8 212.8,451.0 212.9,450.2 213.1,449.4 213.2,448.7 213.3,447.9 213.4,447.1 213.5,446.4 213.6,445.6 213.9,444.8 214.2,444.0 214.6,443.1 214.9,442.9 215.4,443.1 215.9,443.6 216.4,444.8 216.6,445.3 216.7,446.1 216.9,446.9 217.1,447.6 217.2,448.2 217.4,449.1 217.6,449.8 217.7,450.5 217.9,451.1 218.1,452.0 218.4,453.0 218.6,453.5 218.9,454.2 219.1,455.2 219.4,456.1 219.6,457.0 220.0,457.4 220.4,458.8 220.7,458.8 221.1,460.1 221.5,458.8 222.1,458.8 222.8,458.6 223.4,457.3 223.7,459.9 224.1,460.8 224.4,461.4 224.7,462.5 224.8,463.1 224.9,463.9 225.0,464.6 225.1,465.4 225.2,466.2 225.4,466.9 225.5,467.6 225.6,468.4 225.7,469.1 225.8,470.0 226.0,470.6 226.1,471.4 226.3,472.1 226.5,472.9 226.6,473.6 226.8,474.3 227.0,475.1 227.1,475.7 227.3,476.6 227.6,476.9 228.0,478.1 228.3,478.6 228.7,479.8 229.0,479.8 229.4,481.0 229.8,481.6 230.1,482.9 230.5,483.6 230.9,484.6 231.5,482.8 232.1,482.2 232.7,481.0 233.1,482.8 233.5,483.3 233.8,484.0 234.2,485.3 234.6,486.4 235.5,484.7 236.5,487.3 237.4,483.6 238.1,485.6 238.8,484.8 239.5,487.5 240.2,488.4 240.7,485.8 241.1,485.8 241.6,485.2 242.1,483.0 242.6,484.3 243.1,485.2 243.5,486.5 244.0,485.5 244.7,487.4 245.4,487.6 246.1,487.6 246.8,488.5 247.5,490.5 248.2,487.3 249.0,489.3 249.7,487.1 250.5,488.2 251.2,488.4 252.0,485.6 252.7,488.7 253.5,489.5 254.2,486.6 255.0,485.6 255.7,485.9 256.5,488.7 257.2,484.8 258.0,487.7 258.7,484.2 259.3,486.9 259.9,485.6 260.5,486.3 261.0,488.2 261.6,487.0 262.2,488.2 262.8,490.3 263.4,490.5 264.2,491.1 265.0,491.4 265.8,487.1 266.5,487.8 267.3,490.1 268.1,489.6 268.9,486.8 269.7,489.0 270.5,488.0 271.2,489.0 272.0,487.7 272.8,487.4 273.6,491.6 274.4,488.5 275.1,490.8 275.9,487.3 276.7,488.8 277.5,487.2 278.2,488.1 279.0,486.8 279.7,488.2 280.5,485.9 281.2,487.7 282.0,486.5 282.8,484.6 283.5,485.3 284.3,485.5 285.1,486.9 285.9,484.2 286.5,484.5 287.1,487.2 287.8,487.4 288.4,487.4 289.0,486.6 289.6,486.2 290.4,486.5 291.1,485.4 291.9,484.9 292.6,486.2 293.4,485.5 294.1,485.5 294.9,484.4 295.6,482.8 296.4,484.5 297.1,484.1 297.9,484.0 298.6,484.5 299.4,485.5 300.1,486.9 300.9,487.4 301.8,486.8 302.8,485.3 303.7,485.0 304.6,485.5 305.0,485.5 305.4,484.2 305.8,483.4 306.2,482.6 306.6,481.6 307.0,481.5 307.2,480.3 307.3,479.7 307.5,478.9 307.6,478.0 307.8,477.3 307.9,476.5 308.1,475.7 308.3,474.9 308.4,474.1 308.6,473.4 308.7,472.6 308.9,471.8 309.0,471.0 309.0,470.3 309.1,469.5 309.2,468.8 309.3,468.1 309.3,467.3 309.4,466.6 309.5,465.8 309.6,465.1 309.6,464.3 309.7,463.6 309.8,462.8 309.9,462.1 309.9,461.3 310.0,460.6 310.1,459.8 310.2,459.0 310.2,458.3 310.3,457.5 310.4,456.8 310.5,456.0 310.6,455.2 310.7,454.4 310.7,453.7 310.8,452.9 310.9,452.1 311.0,451.3 311.1,450.5 311.2,449.7 311.3,448.9 311.4,448.2 311.4,447.4 311.5,446.6 311.6,445.8 311.7,444.8 312.2,444.6 312.7,443.3 312.9,444.1 313.1,444.9 313.4,445.8 313.6,446.6 313.7,447.3 313.8,448.1 313.8,448.9 313.9,449.7 314.0,450.4 314.1,451.2 314.2,452.0 314.3,452.7 314.3,453.5 314.4,454.3 314.5,455.0 314.6,455.7 314.6,456.5 314.7,457.2 314.8,458.0 314.9,458.7 314.9,459.5 315.0,460.2 315.1,461.0 315.2,461.7 315.2,462.5 315.3,463.2 315.4,464.0 315.5,464.7 315.5,465.5 315.6,466.2 315.7,467.0 315.8,467.7 315.9,468.5 316.0,469.2 316.1,469.9 316.2,470.7 316.3,471.4 316.4,472.2 316.5,472.9 316.6,473.6 316.7,474.4 316.8,475.2 316.9,475.9 317.0,476.6 317.1,477.4 317.3,478.1 317.5,478.8 317.7,479.5 317.9,480.5 318.2,480.9 318.4,481.8 318.6,482.7 318.8,483.2 319.0,483.9 319.6,485.2 320.1,485.6 320.6,485.9 321.2,485.7 321.9,487.1 322.6,487.3 323.3,488.9 324.0,487.8 324.8,488.1 325.5,488.9 326.3,489.4 327.0,487.3 327.8,487.3 328.4,487.3 328.9,487.6 329.5,485.3 330.0,486.5 330.6,485.5 331.3,484.1 332.0,484.7 332.7,483.2 333.4,482.0 334.0,483.8 334.7,482.2 335.3,482.2 335.9,482.7 336.6,484.3 337.2,484.4 337.6,484.3 337.9,485.6 338.3,486.2 338.6,486.9 339.0,488.4 339.7,487.9 340.4,488.6 341.1,490.4 341.8,489.3 342.4,489.0 342.9,488.5 343.5,488.7 344.0,487.8 344.6,487.9 345.0,487.3 345.4,487.6 345.7,489.0 346.1,489.5 346.5,491.3 347.1,490.0 347.6,488.0 348.2,487.6 348.7,486.6 349.3,488.1 350.2,485.1 351.2,485.2 352.1,488.2 352.5,486.6 352.9,485.3 353.4,485.3 353.8,484.7 354.2,483.7 354.6,482.5 355.0,482.6 355.4,481.6 355.8,481.2 356.2,482.7 356.8,481.8 357.5,482.6 358.1,481.8 358.6,482.8 359.1,483.7 359.5,483.4 360.0,485.5 360.3,485.4 360.7,486.1 361.0,486.8 361.3,487.4 361.7,488.6 362.0,489.3 362.8,488.5 363.7,487.7 364.5,485.9 365.2,486.4 365.9,488.2 366.6,487.7 367.3,487.4 368.0,485.0 368.6,484.3 369.3,483.3 370.0,484.1 370.5,483.1 371.0,482.7 371.5,482.1 372.0,481.6 372.5,480.5 373.1,480.7 373.8,478.7 374.4,480.5 375.0,479.3 375.6,478.8 376.2,480.0 376.8,481.1 377.7,481.0 378.6,482.0 379.5,481.5 380.0,482.2 380.6,483.9 381.1,483.3 381.7,484.8 382.2,485.6 382.8,485.7 383.4,486.0 384.0,487.7 384.6,487.2 385.3,488.3 386.0,485.1 386.7,486.0 387.4,486.2 388.2,483.9 388.9,485.6 389.7,482.2 390.4,484.6 391.2,482.9 391.9,485.7 392.2,485.2 392.5,486.1 392.9,486.6 393.2,487.4 393.5,488.1 393.8,488.3 394.5,488.2 395.2,490.7 395.9,488.9 396.6,492.4 397.2,489.3 397.7,488.5 398.3,487.9 398.8,488.9 399.4,489.1 400.1,487.1 400.8,487.7 401.5,485.8 402.2,487.2 402.4,485.7 402.6,484.8 402.8,484.0 403.1,483.5 403.3,482.5 403.5,482.1 403.7,481.2 403.8,480.4 403.9,479.6 404.1,478.8 404.2,478.1 404.3,477.2 404.4,476.5 404.5,475.7 404.6,475.0 404.8,474.1 404.9,473.4 405.0,472.6 405.1,471.8 405.4,470.7 405.7,470.1 406.0,469.4 406.3,468.4 406.6,467.9 406.9,468.3 407.1,469.3 407.4,470.3 407.6,471.0 407.9,471.9 408.2,472.3 408.4,473.4 408.7,473.8 408.9,475.0 409.2,475.8 409.5,476.5 409.8,477.0 410.1,477.7 410.4,478.4 410.7,479.4 410.8,480.1 410.9,480.9 411.0,481.6 411.2,482.4 411.3,483.3 411.4,484.0" fill="none" stroke="#000" stroke-width="1.65" stroke-linejoin="miter" stroke-miterlimit="2.5" stroke-linecap="round"/>
<line x1="34.3" y1="295.3" x2="34.3" y2="506.6" stroke="#2c2c2c" stroke-width="1.2"/>
<line x1="32.2" y1="296.6" x2="34.3" y2="296.6" stroke="#2c2c2c" stroke-width="1.2"/>
<line x1="32.2" y1="307.1" x2="34.3" y2="307.1" stroke="#2c2c2c" stroke-width="1.2"/>
<line x1="32.2" y1="317.5" x2="34.3" y2="317.5" stroke="#2c2c2c" stroke-width="1.2"/>
<line x1="32.2" y1="328.0" x2="34.3" y2="328.0" stroke="#2c2c2c" stroke-width="1.2"/>
<line x1="32.2" y1="338.4" x2="34.3" y2="338.4" stroke="#2c2c2c" stroke-width="1.2"/>
<line x1="32.2" y1="348.9" x2="34.3" y2="348.9" stroke="#2c2c2c" stroke-width="1.2"/>
<line x1="32.2" y1="359.3" x2="34.3" y2="359.3" stroke="#2c2c2c" stroke-width="1.2"/>
<line x1="32.2" y1="369.8" x2="34.3" y2="369.8" stroke="#2c2c2c" stroke-width="1.2"/>
<line x1="32.2" y1="380.2" x2="34.3" y2="380.2" stroke="#2c2c2c" stroke-width="1.2"/>
<line x1="32.2" y1="390.7" x2="34.3" y2="390.7" stroke="#2c2c2c" stroke-width="1.2"/>
<line x1="32.2" y1="401.1" x2="34.3" y2="401.1" stroke="#2c2c2c" stroke-width="1.2"/>
<line x1="32.2" y1="411.6" x2="34.3" y2="411.6" stroke="#2c2c2c" stroke-width="1.2"/>
<line x1="32.2" y1="422.0" x2="34.3" y2="422.0" stroke="#2c2c2c" stroke-width="1.2"/>
<line x1="32.2" y1="432.5" x2="34.3" y2="432.5" stroke="#2c2c2c" stroke-width="1.2"/>
<line x1="32.2" y1="442.9" x2="34.3" y2="442.9" stroke="#2c2c2c" stroke-width="1.2"/>
<line x1="32.2" y1="453.4" x2="34.3" y2="453.4" stroke="#2c2c2c" stroke-width="1.2"/>
<line x1="32.2" y1="463.8" x2="34.3" y2="463.8" stroke="#2c2c2c" stroke-width="1.2"/>
<line x1="32.2" y1="474.3" x2="34.3" y2="474.3" stroke="#2c2c2c" stroke-width="1.2"/>
<line x1="32.2" y1="484.8" x2="34.3" y2="484.8" stroke="#2c2c2c" stroke-width="1.2"/>
<line x1="32.2" y1="495.2" x2="34.3" y2="495.2" stroke="#2c2c2c" stroke-width="1.2"/>
<line x1="33.7" y1="506" x2="411.9" y2="506" stroke="#2c2c2c" stroke-width="1.4"/>
<line x1="34.3" y1="506" x2="34.3" y2="510.1" stroke="#2c2c2c" stroke-width="1.35"/>
<text transform="translate(34.3,520.2) scale(0.9,1)" font-size="9.6" text-anchor="middle" stroke="#111" stroke-width="0.2">30</text>
<line x1="50.0" y1="506" x2="50.0" y2="508.5" stroke="#2c2c2c" stroke-width="1.25"/>
<line x1="65.7" y1="506" x2="65.7" y2="510.1" stroke="#2c2c2c" stroke-width="1.35"/>
<text transform="translate(65.7,520.2) scale(0.9,1)" font-size="9.6" text-anchor="middle" stroke="#111" stroke-width="0.2">31</text>
<line x1="81.4" y1="506" x2="81.4" y2="508.5" stroke="#2c2c2c" stroke-width="1.25"/>
<line x1="97.1" y1="506" x2="97.1" y2="510.1" stroke="#2c2c2c" stroke-width="1.35"/>
<text transform="translate(97.1,520.2) scale(0.9,1)" font-size="9.6" text-anchor="middle" stroke="#111" stroke-width="0.2">32</text>
<line x1="112.8" y1="506" x2="112.8" y2="508.5" stroke="#2c2c2c" stroke-width="1.25"/>
<line x1="128.6" y1="506" x2="128.6" y2="510.1" stroke="#2c2c2c" stroke-width="1.35"/>
<text transform="translate(128.6,520.2) scale(0.9,1)" font-size="9.6" text-anchor="middle" stroke="#111" stroke-width="0.2">33</text>
<line x1="144.3" y1="506" x2="144.3" y2="508.5" stroke="#2c2c2c" stroke-width="1.25"/>
<line x1="160.0" y1="506" x2="160.0" y2="510.1" stroke="#2c2c2c" stroke-width="1.35"/>
<text transform="translate(160.0,520.2) scale(0.9,1)" font-size="9.6" text-anchor="middle" stroke="#111" stroke-width="0.2">34</text>
<line x1="175.7" y1="506" x2="175.7" y2="508.5" stroke="#2c2c2c" stroke-width="1.25"/>
<line x1="191.4" y1="506" x2="191.4" y2="510.1" stroke="#2c2c2c" stroke-width="1.35"/>
<text transform="translate(191.4,520.2) scale(0.9,1)" font-size="9.6" text-anchor="middle" stroke="#111" stroke-width="0.2">35</text>
<line x1="207.1" y1="506" x2="207.1" y2="508.5" stroke="#2c2c2c" stroke-width="1.25"/>
<line x1="222.8" y1="506" x2="222.8" y2="510.1" stroke="#2c2c2c" stroke-width="1.35"/>
<text transform="translate(222.8,520.2) scale(0.9,1)" font-size="9.6" text-anchor="middle" stroke="#111" stroke-width="0.2">36</text>
<line x1="238.5" y1="506" x2="238.5" y2="508.5" stroke="#2c2c2c" stroke-width="1.25"/>
<line x1="254.2" y1="506" x2="254.2" y2="510.1" stroke="#2c2c2c" stroke-width="1.35"/>
<text transform="translate(254.2,520.2) scale(0.9,1)" font-size="9.6" text-anchor="middle" stroke="#111" stroke-width="0.2">37</text>
<line x1="269.9" y1="506" x2="269.9" y2="508.5" stroke="#2c2c2c" stroke-width="1.25"/>
<line x1="285.6" y1="506" x2="285.6" y2="510.1" stroke="#2c2c2c" stroke-width="1.35"/>
<text transform="translate(285.6,520.2) scale(0.9,1)" font-size="9.6" text-anchor="middle" stroke="#111" stroke-width="0.2">38</text>
<line x1="301.3" y1="506" x2="301.3" y2="508.5" stroke="#2c2c2c" stroke-width="1.25"/>
<line x1="317.1" y1="506" x2="317.1" y2="510.1" stroke="#2c2c2c" stroke-width="1.35"/>
<text transform="translate(317.1,520.2) scale(0.9,1)" font-size="9.6" text-anchor="middle" stroke="#111" stroke-width="0.2">39</text>
<line x1="332.8" y1="506" x2="332.8" y2="508.5" stroke="#2c2c2c" stroke-width="1.25"/>
<line x1="348.5" y1="506" x2="348.5" y2="510.1" stroke="#2c2c2c" stroke-width="1.35"/>
<text transform="translate(348.5,520.2) scale(0.9,1)" font-size="9.6" text-anchor="middle" stroke="#111" stroke-width="0.2">40</text>
<line x1="364.2" y1="506" x2="364.2" y2="508.5" stroke="#2c2c2c" stroke-width="1.25"/>
<line x1="379.9" y1="506" x2="379.9" y2="510.1" stroke="#2c2c2c" stroke-width="1.35"/>
<text transform="translate(379.9,520.2) scale(0.9,1)" font-size="9.6" text-anchor="middle" stroke="#111" stroke-width="0.2">41</text>
<line x1="395.6" y1="506" x2="395.6" y2="508.5" stroke="#2c2c2c" stroke-width="1.25"/>
<line x1="411.3" y1="506" x2="411.3" y2="510.1" stroke="#2c2c2c" stroke-width="1.35"/>
<text transform="translate(411.3,520.2) scale(0.9,1)" font-size="9.6" text-anchor="middle" stroke="#111" stroke-width="0.2">42</text>
<text transform="translate(23.4,457.7) rotate(-90)" font-size="16.4" textLength="130.5" lengthAdjust="spacingAndGlyphs">Relative intensity</text>
<text x="377.6" y="536.4" font-size="10.2">o</text><text transform="translate(383.5,542.6) scale(1.0,1)" font-size="16.4">2</text><text transform="translate(392.4,542.6) scale(1.0,1)" font-size="16.4">Θ</text>
<line x1="311.3" y1="283.4" x2="339.3" y2="283.4" stroke="#000" stroke-width="1.6"/>
<text x="341.6" y="287.1" font-size="10.5">Coating(No.2)</text>
<line x1="311.3" y1="296.2" x2="339.3" y2="296.2" stroke="#ee3a3a" stroke-width="1.6"/>
<text x="341.6" y="299.9" font-size="10.5">YAG</text>
<line x1="311.3" y1="309.0" x2="339.3" y2="309.0" stroke="#2a2ae0" stroke-width="1.6"/>
<text x="341.6" y="312.7" font-size="10.5">αSi3N4</text>
<line x1="311.3" y1="321.8" x2="339.3" y2="321.8" stroke="#0ce04a" stroke-width="1.6"/>
<text x="341.6" y="325.5" font-size="10.5">βSi3N4</text>
<line x1="311.3" y1="334.6" x2="339.3" y2="334.6" stroke="#9a48cc" stroke-width="1.6"/>
<text x="341.6" y="338.3" font-size="10.5">SiAlON(Z=1.31)</text>
<line x1="311.3" y1="347.4" x2="339.3" y2="347.4" stroke="#f0964a" stroke-width="1.6"/>
<text x="341.6" y="351.1" font-size="10.5">SiAlON(Z=3)</text>
<line x1="311.3" y1="360.2" x2="339.3" y2="360.2" stroke="#aed4f2" stroke-width="1.6"/>
<text x="341.6" y="363.9" font-size="10.5">SiAlON(Z=1)</text>
<line x1="311.3" y1="373.0" x2="339.3" y2="373.0" stroke="#ffee33" stroke-width="1.6"/>
<text x="341.6" y="376.7" font-size="10.5">SiAlON(Z=2)</text>
<line x1="311.3" y1="385.8" x2="339.3" y2="385.8" stroke="#0e9038" stroke-width="1.6"/>
<text x="341.6" y="389.5" font-size="10.5">SiAlON(Z=4)</text>
</g>
</svg>
</body></html>
